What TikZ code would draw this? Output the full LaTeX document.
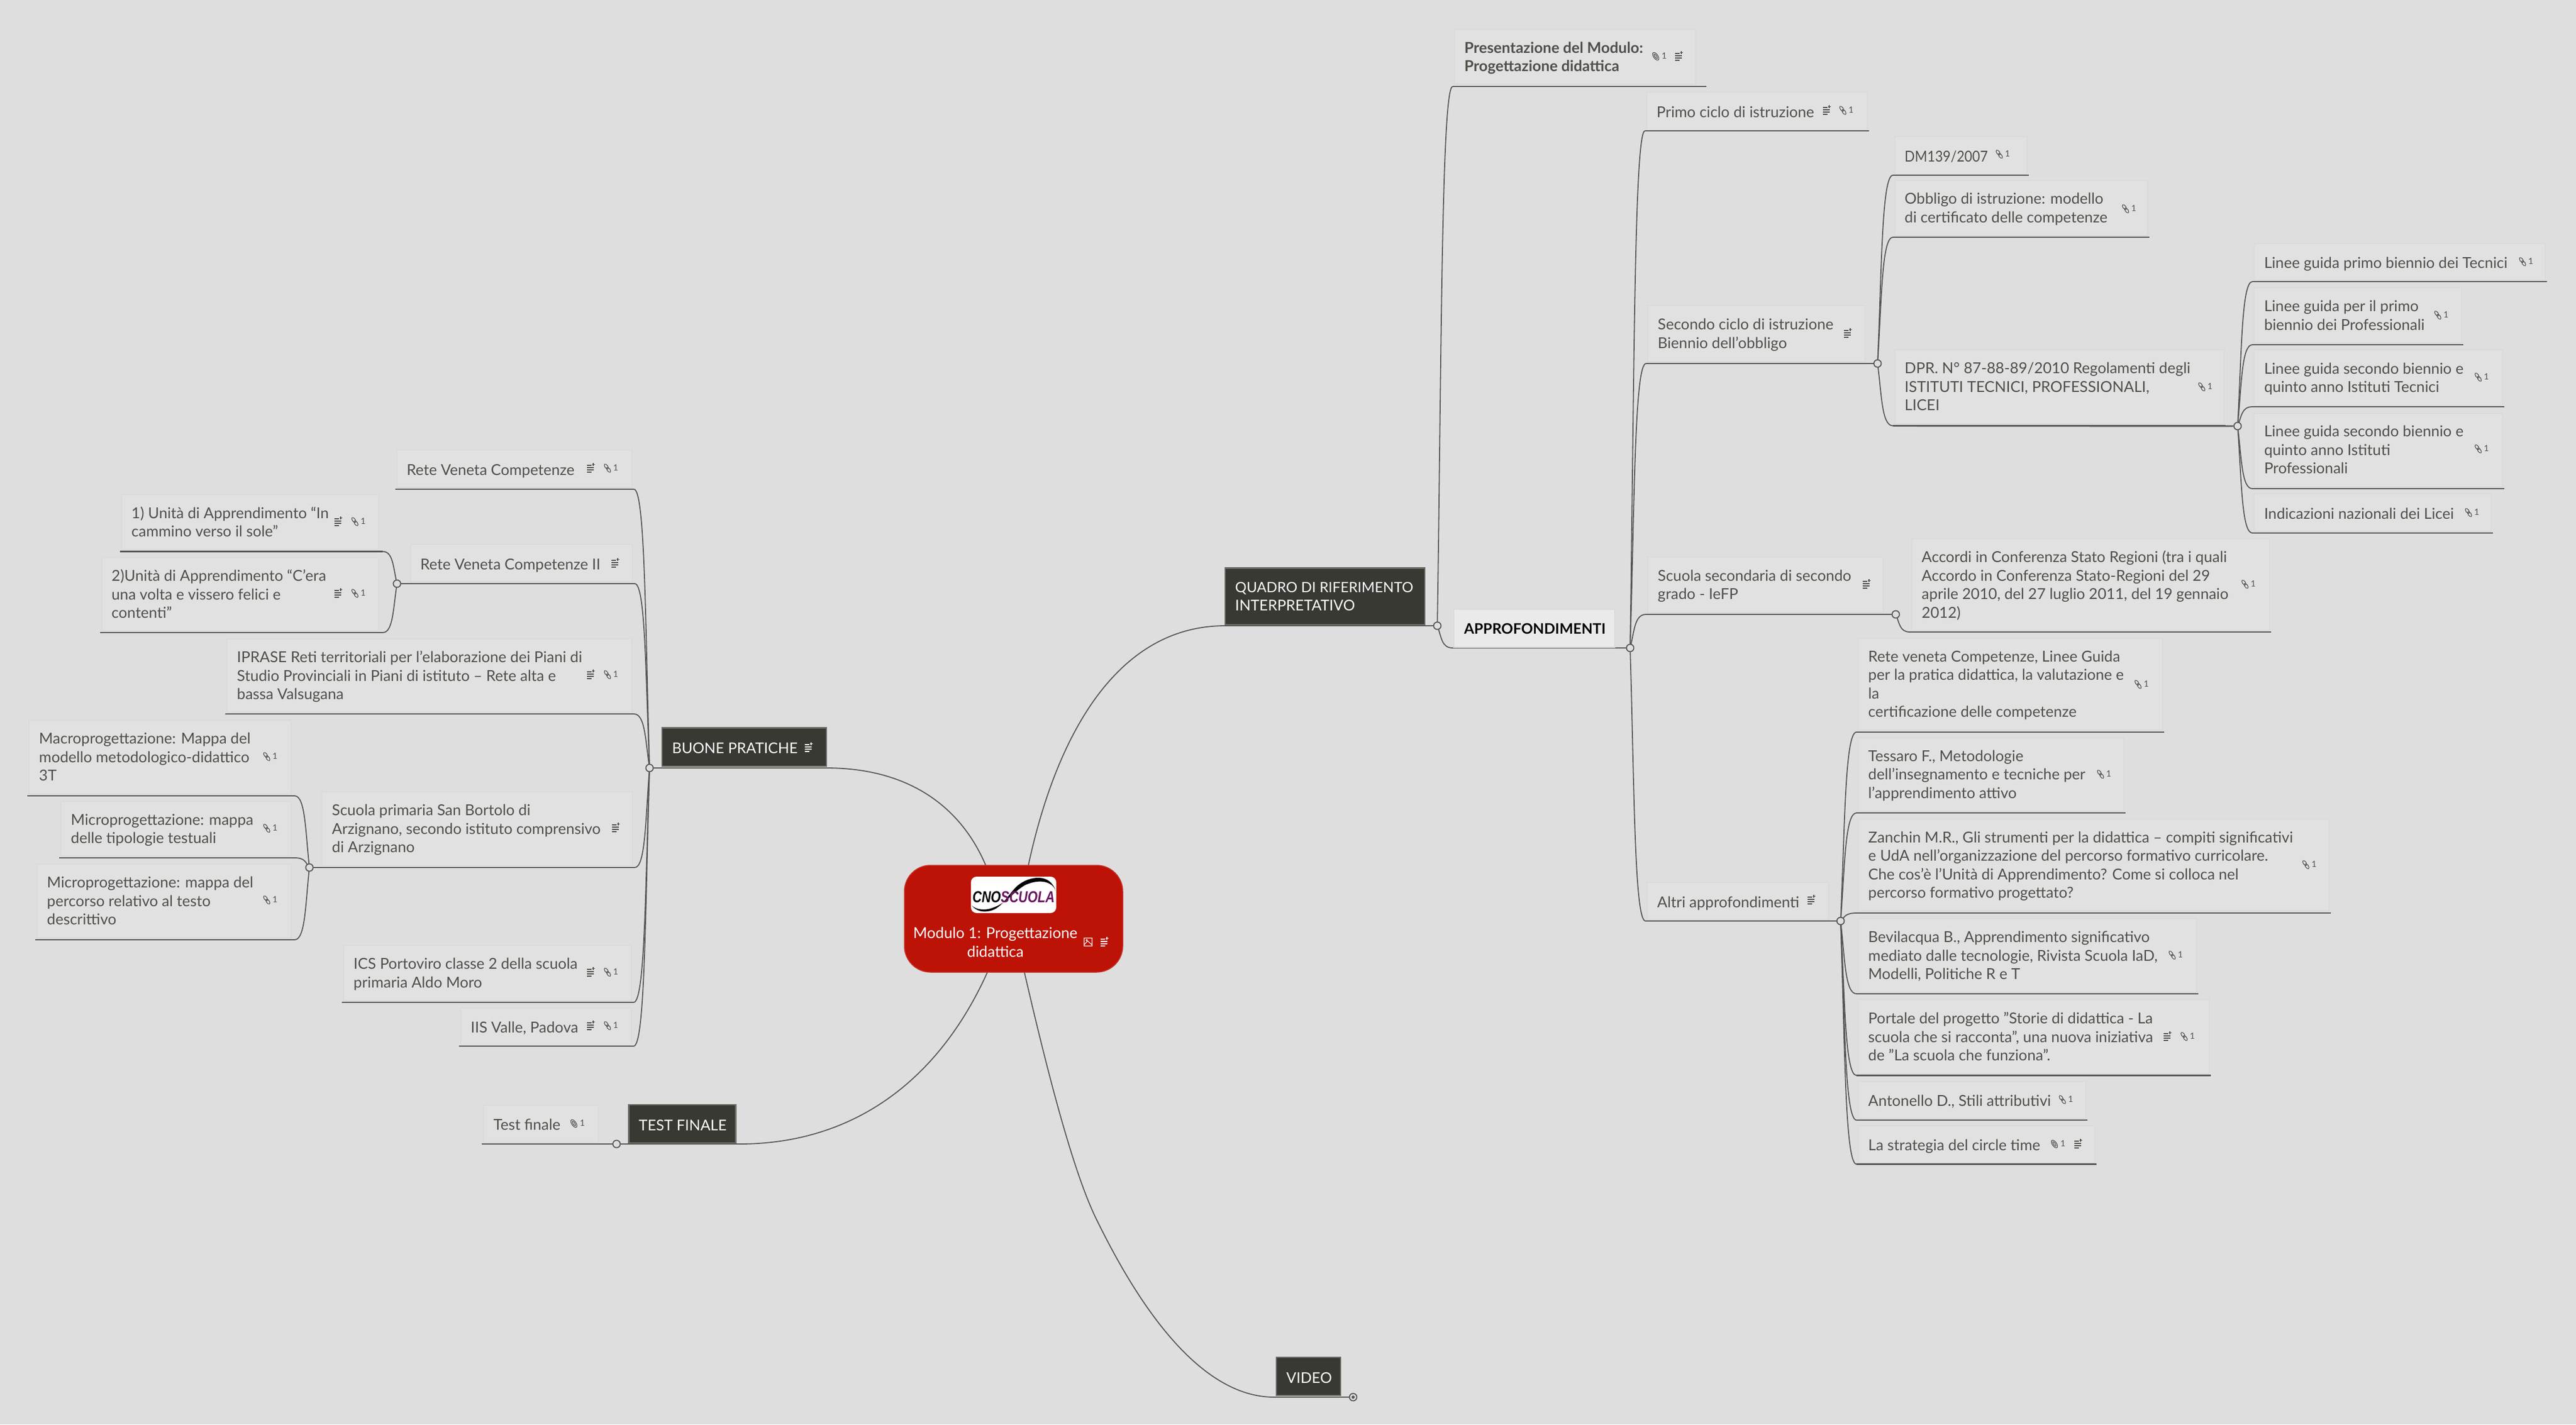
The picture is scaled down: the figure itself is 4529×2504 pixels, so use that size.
\documentclass[tikz,border=0pt]{standalone}
\usepackage{fontspec}
\usepackage{graphicx}
\setmainfont{Lato}
\newfontfamily\logofont{Liberation Sans}
\usetikzlibrary{calc}
\pgfdeclarelayer{bg}\pgfdeclarelayer{conn}\pgfsetlayers{bg,conn,main}
\definecolor{pagebg}{HTML}{DEDEDE}
\definecolor{boxfill}{HTML}{E1E1E1}
\definecolor{boxedge}{HTML}{DADADA}
\definecolor{inkline}{HTML}{555552}
\definecolor{inktext}{HTML}{4F4F4A}
\definecolor{darkfill}{HTML}{383933}
\definecolor{darkedge}{HTML}{6A6B65}
\definecolor{rootred}{HTML}{BD1206}
\definecolor{logopurple}{HTML}{6B1560}
\newcounter{iconctr}
\tikzset{
 x=1pt,y=-1pt,
 topicbox/.style={rectangle,fill=boxfill,draw=boxedge,line width=2pt,inner sep=0pt},
 topictext/.style={inner sep=0pt,align=left,text=inktext,font=\fontsize{26.5}{32.5}\selectfont,execute at begin node=\strut,execute at end node=\strut},
 boldtext/.style={topictext,font=\fontsize{25.5}{32.5}\selectfont\bfseries},
 darkbox/.style={rectangle,fill=darkfill,draw=darkedge,line width=2.5pt,inner sep=0pt},
 darktext/.style={topictext,text=white,font=\fontsize{26}{32.5}\selectfont},
 underl/.style={draw=inkline,line width=2.9pt},
 curve/.style={draw=inkline,line width=1.8pt},
 hubdot/.style={circle,draw=inkline,fill=pagebg,line width=1.8pt,minimum size=13pt,inner sep=0pt},
 iconnum/.style={inner sep=0pt,text=inktext,font=\fontsize{15}{15}\selectfont},
 iconline/.style={draw=#1,line width=1.15pt},
 iconline/.default=inktext
}
% box with underline: #1 right extension, #2 name, #3 x0, #4 y0, #5 x1, #6 y1, #7 underline y, #8 text
\newcommand\mmtopic[8][3]{%
 \node[topicbox,minimum width={#5-#3},minimum height={#6-#4}] (#2) at ({(#3+#5)/2},{(#4+#6)/2}) {};
 \node[topictext,anchor=west] (#2-t) at ({#3+17.5},{(#4+#6)/2+4.5}) {#8};
 \coordinate (#2-ul) at ({#3-3},#7);
 \coordinate (#2-ur) at ({#5+#1},#7);
 \draw[underl] (#2-ul) -- (#2-ur);
}
\newcommand\mmdark[6]{% name x0 y0 x1 y1 text
 \node[darkbox,minimum width={#4-#2},minimum height={#5-#3}] (#1) at ({(#2+#4)/2},{(#3+#5)/2}) {};
 \node[darktext,anchor=west] (#1-t) at ({#2+17.5},{(#3+#5)/2+5}) {#6};
}
\newcommand\mmhub[3]{\node[hubdot] (#1) at (#2,#3) {};}
\newcommand\mmconn[2]{%
 \begin{pgfonlayer}{conn}
 \draw[curve] let \p1=(#1),\p2=(#2) in (\p1) .. controls ({\x1+0.27*(\x2-\x1)},{0.5*\y1+0.5*\y2}) and ({\x1+0.27*(\x2-\x1)},\y2) .. (\p2);
 \end{pgfonlayer}
}
\newcommand\mmstem[2]{\begin{pgfonlayer}{conn}\draw[underl] (#1) -- (#2);\end{pgfonlayer}}
\newcommand\mmnum[2]{\stepcounter{iconctr}\node[iconnum] (num\theiconctr) at (#1,#2) {1};}
\newcommand\mmlink[2]{%
 \draw[iconline,rotate around={35:(#1,#2)}] (#1,{#2-3.5}) ellipse (2.6 and 5) (#1,{#2+3.5}) ellipse (2.6 and 5);
 \mmnum{#1+14.5}{#2-1}
}
\newcommand\mmclip[2]{%
 \draw[iconline,rotate around={35:(#1,#2)}] (#1,#2) ellipse (3.8 and 7.8) (#1,#2) ellipse (1.6 and 4.8);
 \mmnum{#1+15}{#2-1}
}
\newcommand\mmnote[3][inktext]{%
 \draw[iconline=#1] ({#2-6},{#3-5}) -- ({#2+2},{#3-5}) ({#2-6},{#3-1}) -- ({#2+6},{#3-1}) ({#2-6},{#3+3}) -- ({#2+6},{#3+3}) ({#2-6},{#3+7}) -- ({#2+2},{#3+7}) ({#2+5},{#3-9}) -- ({#2+5},{#3-4}) ({#2+2.5},{#3-6.5}) -- ({#2+7.5},{#3-6.5});
}
\begin{document}
\begin{tikzpicture}
\useasboundingbox (0,0) rectangle (4529,2504);
\begin{pgfonlayer}{bg}
\fill[pagebg] (0,0) rectangle (4529,2504);
\end{pgfonlayer}

% ---------- root ----------
\node[rectangle,rounded corners=46pt,fill=rootred,draw=rootred!85!white,line width=1.5pt,minimum width=384pt,minimum height=188pt,inner sep=0pt] (root) at (1782,1615) {};
\node[rectangle,rounded corners=10pt,fill=white,minimum width=150pt,minimum height=64pt,inner sep=0pt] (logo) at (1782,1573) {};
\fill[black] (1709,1592) .. controls (1716,1602) and (1730,1605) .. (1745,1600) .. controls (1765,1592) and (1772,1572) .. (1790,1556) .. controls (1810,1540) and (1846,1534) .. (1856,1566) .. controls (1850,1548) and (1825,1545) .. (1802,1556) .. controls (1778,1570) and (1770,1590) .. (1738,1598) .. controls (1726,1600) and (1715,1598) .. (1709,1592) -- cycle;
\node[inner sep=0pt] (logotext) at (1782,1577) {\scalebox{0.8}[1]{\logofont\fontsize{28}{28}\selectfont\bfseries\itshape CNO\textcolor{logopurple}{SCUOLA}}};
\node[inner sep=0pt,align=center,text=white,font=\fontsize{26.5}{33}\selectfont] (roottext) at (1750,1656) {Modulo 1: Progettazione\\didattica};
\draw[iconline=white] (1906,1649) rectangle (1920,1663) (1906,1661) -- (1912,1654) -- (1920,1661);
\fill[white] (1910.5,1652.5) circle (1.8);
\mmnote[white]{1941}{1656}

% ---------- right branch ----------
\mmdark{quadro}{2154}{998.5}{2505}{1098}{\fontsize{25}{32.5}\selectfont QUADRO DI RIFERIMENTO\\INTERPRETATIVO}
\mmhub{hubq}{2527}{1100}
\coordinate (quadro-l) at (2154,1100);
\mmstem{quadro-l}{hubq}

\mmtopic[19]{pres}{2557}{52}{2981}{148}{152}{\textbf{Presentazione del Modulo:}\\\textbf{Progettazione didattica}}
\mmclip{2911}{99}\mmnote{2951}{99}
\mmconn{hubq}{pres-ul}

\node[topicbox,fill=boxfill!70!white,minimum width=283pt,minimum height=67pt] (appr) at (2697.5,1104.5) {};
\node[boldtext,text=black,anchor=west] (appr-t) at (2574,1108) {APPROFONDIMENTI};
\coordinate (appr-ul) at (2554,1139);
\mmhub{huba}{2866}{1139}
\mmstem{appr-ul}{huba}
\mmconn{hubq}{appr-ul}

\mmtopic{primo}{2895}{162}{3283}{228}{230}{Primo ciclo di istruzione}
\mmnote{3211}{194}\mmlink{3240}{194}
\mmconn{huba}{primo-ul}

\mmtopic{sec}{2897}{537}{3279}{636}{639}{Secondo ciclo di istruzione\\Biennio dell’obbligo}
\mmnote{3248}{586}
\mmhub{hubs}{3301}{639}
\mmstem{sec-ul}{hubs}
\mmconn{huba}{sec-ul}

\mmtopic{dm}{3331}{240}{3564}{306}{308}{\scalebox{0.89}[1]{DM139/2007}}
\mmlink{3515}{271}
\mmconn{hubs}{dm-ul}
\mmtopic{obb}{3331}{317}{3776}{414}{417}{Obbligo di istruzione: modello\\di certificato delle competenze}
\mmlink{3737}{367}
\mmconn{hubs}{obb-ul}
\mmtopic{dpr}{3331}{615}{3910}{745}{748.5}{DPR. N° 87-88-89/2010 Regolamenti degli\\ISTITUTI TECNICI, PROFESSIONALI,\\LICEI}
\mmlink{3871}{680}
\mmhub{hubd}{3934}{749}
\mmstem{dpr-ul}{hubd}
\mmconn{hubs}{dpr-ul}

\mmtopic{lg1}{3963}{428}{4475}{492}{495}{Linee guida primo biennio dei Tecnici}
\mmlink{4435}{460}\mmconn{hubd}{lg1-ul}
\mmtopic{lg2}{3963}{506}{4328}{603}{606}{Linee guida per il primo\\biennio dei Professionali}
\mmlink{4286}{554}\mmconn{hubd}{lg2-ul}
\mmtopic{lg3}{3963}{615}{4400}{713}{715}{Linee guida secondo biennio e\\quinto anno Istituti Tecnici}
\mmlink{4357}{663}\mmconn{hubd}{lg3-ul}
\mmtopic{lg4}{3963}{726.5}{4400}{855.5}{859}{Linee guida secondo biennio e\\quinto anno Istituti\\Professionali}
\mmlink{4357}{789}\mmconn{hubd}{lg4-ul}
\mmtopic{lg5}{3963}{868}{4380}{934}{937}{Indicazioni nazionali dei Licei}
\mmlink{4340}{901}\mmconn{hubd}{lg5-ul}

\mmtopic{ssec}{2897}{979}{3311}{1077}{1080}{Scuola secondaria di secondo\\grado - IeFP}
\mmnote{3281}{1027}
\mmhub{hubb}{3333}{1080}
\mmstem{ssec-ul}{hubb}
\mmconn{huba}{ssec-ul}
\mmtopic{acc}{3361}{947}{3990}{1108}{1111}{Accordi in Conferenza Stato Regioni (tra i quali\\Accordo in Conferenza Stato-Regioni del 29\\aprile 2010, del 27 luglio 2011, del 19 gennaio\\2012)}
\mmlink{3947}{1027}
\mmconn{hubb}{acc-ul}

\mmtopic{altri}{2896}{1551}{3215}{1617}{1619}{Altri approfondimenti}
\mmnote{3184}{1582}
\mmhub{hubt}{3236}{1619}
\mmstem{altri-ul}{hubt}
\mmconn{huba}{altri-ul}

\mmtopic{rv}{3267}{1122}{3802}{1283}{1287}{Rete veneta Competenze, Linee Guida\\per la pratica didattica, la valutazione e\\la\\certificazione delle competenze}
\mmlink{3759}{1203}\mmconn{hubt}{rv-ul}
\mmtopic{tess}{3267}{1297}{3734}{1426}{1429}{Tessaro F., Metodologie\\dell’insegnamento e tecniche per\\l’apprendimento attivo}
\mmlink{3693}{1361}\mmconn{hubt}{tess-ul}
\mmtopic{zan}{3267}{1440}{4095}{1601}{1605}{Zanchin M.R., Gli strumenti per la didattica – compiti significativi\\e UdA nell’organizzazione del percorso formativo curricolare.\\Che cos’è l’Unità di Apprendimento? Come si colloca nel\\percorso formativo progettato?}
\mmlink{4054}{1520}\mmconn{hubt}{zan-ul}
\mmtopic{bev}{3267}{1615}{3862}{1745}{1747}{Bevilacqua B., Apprendimento significativo\\mediato dalle tecnologie, Rivista Scuola IaD,\\Modelli, Politiche R e T}
\mmlink{3819}{1679}\mmconn{hubt}{bev-ul}
\mmtopic{port}{3267}{1757}{3884}{1887.5}{1890.5}{Portale del progetto "Storie di didattica - La\\scuola che si racconta", una nuova iniziativa\\de "La scuola che funziona".}
\mmnote{3810}{1822}\mmlink{3840}{1822}\mmconn{hubt}{port-ul}
\mmtopic{ant}{3267}{1901}{3667}{1966}{1969}{Antonello D., Stili attributivi}
\mmlink{3626}{1933}\mmconn{hubt}{ant-ul}
\mmtopic{circ}{3267}{1979}{3683}{2044}{2046.5}{La strategia del circle time}
\mmclip{3612}{2011}\mmnote{3653}{2011}\mmconn{hubt}{circ-ul}

% ---------- left branch ----------
\mmdark{buone}{1164}{1279.5}{1453}{1347}{BUONE PRATICHE}
\mmnote[white]{1421}{1314}
\mmhub{hubl}{1142}{1350}
\coordinate (buone-r) at (1453,1350);
\mmstem{hubl}{buone-r}

\mmtopic[4]{rvc}{697.5}{791}{1110.5}{857}{860}{Rete Veneta Competenze}
\mmnote{1038}{823}\mmlink{1068}{823}\mmconn{hubl}{rvc-ur}
\mmtopic[4]{rvc2}{721.5}{957}{1112}{1023}{1026}{Rete Veneta Competenze II}
\mmnote{1081}{990}
\mmconn{hubl}{rvc2-ur}
\mmhub{hubr}{698}{1026}
\mmstem{hubr}{rvc2-ur}
\mmtopic[7]{ua1}{213.5}{869}{666}{966}{969.5}{1) Unità di Apprendimento “In\\cammino verso il sole”}
\mmnote{594}{917}\mmlink{624}{917}\mmconn{hubr}{ua1-ur}
\mmtopic[7]{ua2}{178.5}{980}{666}{1109}{1112}{2)Unità di Apprendimento “C’era\\una volta e vissero felici e\\contenti”}
\mmnote{594}{1043}\mmlink{624}{1043}\mmconn{hubr}{ua2-ur}
\mmtopic[4]{ipr}{399}{1123}{1110.5}{1252}{1255}{IPRASE Reti territoriali per l’elaborazione dei Piani di\\Studio Provinciali in Piani di istituto – Rete alta e\\bassa Valsugana}
\mmnote{1038}{1186}\mmlink{1068}{1186}\mmconn{hubl}{ipr-ur}
\mmtopic[4]{sbo}{566}{1392}{1112}{1521.5}{1525}{Scuola primaria San Bortolo di\\Arzignano, secondo istituto comprensivo\\di Arzignano}
\mmnote{1082}{1455}
\mmconn{hubl}{sbo-ur}
\mmhub{hubm}{544}{1525}
\mmstem{hubm}{sbo-ur}
\mmtopic[6]{mac}{51}{1266}{512}{1396}{1399}{Macroprogettazione: Mappa del\\modello metodologico-didattico\\3T}
\mmlink{469}{1330}\mmconn{hubm}{mac-ur}
\mmtopic[6]{mi1}{107}{1409}{512}{1505}{1508}{Microprogettazione: mappa\\delle tipologie testuali}
\mmlink{469}{1456}\mmconn{hubm}{mi1-ur}
\mmtopic[6]{mi2}{65}{1519}{512}{1649}{1652}{Microprogettazione: mappa del\\percorso relativo al testo\\descrittivo}
\mmlink{469}{1582}\mmconn{hubm}{mi2-ur}
\mmtopic[4]{ics}{604}{1662}{1110}{1759}{1762}{ICS Portoviro classe 2 della scuola\\primaria Aldo Moro}
\mmnote{1038}{1709}\mmlink{1068}{1709}\mmconn{hubl}{ics-ur}
\mmtopic[4]{iis}{810}{1772}{1110}{1837}{1839}{IIS Valle, Padova}
\mmnote{1038}{1803}\mmlink{1068}{1803}\mmconn{hubl}{iis-ur}

% ---------- test finale ----------
\mmdark{tf}{1105.5}{1942}{1293.5}{2009}{TEST FINALE}
\mmhub{hubf}{1084}{2011}
\coordinate (tf-r) at (1300,2011);
\mmstem{hubf}{tf-r}
\mmtopic{tfin}{850}{1943}{1052}{2008}{2011}{Test finale}
\mmclip{1009}{1975}
\begin{pgfonlayer}{conn}\draw[underl] (tfin-ur) -- (hubf);\end{pgfonlayer}

% ---------- video ----------
\mmdark{vid}{2244}{2386}{2357}{2453}{VIDEO}
\mmhub{hubv}{2379}{2456}
\fill[inkline] (hubv) circle (2.8);
\coordinate (vid-l) at (2240,2456);
\mmstem{vid-l}{hubv}

% ---------- root connectors ----------
\coordinate (r1) at (1808,1521);
\coordinate (r2) at (1733,1521);
\coordinate (r3) at (1736,1709);
\coordinate (r4) at (1801,1709);
\begin{pgfonlayer}{conn}
\draw[curve] (r1) .. controls (1860,1280) and (1970,1100) .. (quadro-l);
\draw[curve] (r2) .. controls (1690,1420) and (1600,1350) .. (buone-r);
\draw[curve] (r3) .. controls (1650,1900) and (1500,2011) .. (tf-r);
\draw[curve] (r4) .. controls (1845,1900) and (1890,2070) .. (1930,2148) .. controls (1990,2270) and (2100,2456) .. (vid-l);
\end{pgfonlayer}
\end{tikzpicture}
\end{document}
